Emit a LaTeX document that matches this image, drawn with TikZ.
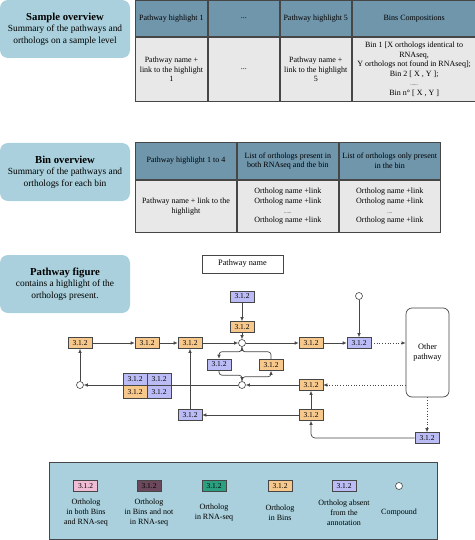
\documentclass[tikz,border=0pt]{standalone}
\usepackage{fontspec}
\setmainfont{Liberation Serif}
\usetikzlibrary{arrows.meta}
\definecolor{boxblue}{RGB}{169,208,220}
\definecolor{headblue}{RGB}{112,150,172}
\definecolor{cellgray}{RGB}{232,232,232}
\definecolor{orthoorange}{RGB}{247,200,140}
\definecolor{orthopurple}{RGB}{187,187,245}
\definecolor{orthopink}{RGB}{240,188,212}
\definecolor{orthodark}{RGB}{108,72,92}
\definecolor{orthogreen}{RGB}{42,160,128}
\definecolor{linegray}{RGB}{70,70,70}
\begin{document}
\begin{tikzpicture}[x=1pt,y=-1pt,>={Latex[length=4pt,width=3.5pt]},
  title/.style={rounded corners=8pt,fill=boxblue,minimum width=130pt,minimum height=58pt,align=center,font=\fontsize{9.4}{11.5}\selectfont},
  head/.style={draw=linegray,line width=0.9pt,fill=headblue,align=center,inner sep=0.5pt,anchor=north west,font=\fontsize{8}{9.6}\selectfont},
  cell/.style={head,fill=cellgray},
  ec/.style={draw=linegray,line width=0.6pt,fill=#1,minimum width=24pt,minimum height=11pt,inner sep=0pt,font=\fontsize{7.5}{8}\selectfont},
  compound/.style={circle,draw=linegray,fill=white,minimum size=7pt,inner sep=0pt,line width=0.6pt},
  legtext/.style={align=center,font=\fontsize{8}{10}\selectfont},
  flow/.style={->,draw=linegray,line width=0.7pt},
  dots/.style={flow,dotted}]
\useasboundingbox (0,0) rectangle (474,540);

% sample overview
\node[title] (sample) at (65,29) {{\bfseries\fontsize{10.7}{12}\selectfont Sample overview}\\Summary of the pathways and\\orthologs on a sample level};
\node[head,minimum width=72pt,minimum height=36pt] (h11) at (135,0) {Pathway highlight 1};
\node[head,minimum width=71pt,minimum height=36pt] (h12) at (h11.north east) {...};
\node[head,minimum width=71pt,minimum height=36pt] (h13) at (h12.north east) {Pathway highlight 5};
\node[head,minimum width=124pt,minimum height=36pt] (h14) at (h13.north east) {Bins Compositions};
\node[cell,minimum width=72pt,minimum height=64pt] (b11) at (h11.south west) {Pathway name +\\link to the highlight\\1};
\node[cell,minimum width=71pt,minimum height=64pt] (b12) at (b11.north east) {...};
\node[cell,minimum width=71pt,minimum height=64pt] (b13) at (b12.north east) {Pathway name +\\link to the highlight\\5};
\node[cell,minimum width=124pt,minimum height=64pt] (b14) at (b13.north east) {Bin 1 [X orthologs identical to\\RNAseq,\\Y orthologs not found in RNAseq];\\Bin 2 [ X , Y ];\\{\tiny......}\\Bin n° [ X , Y ]};

% bin overview
\node[title] (bin) at (65,172) {{\bfseries\fontsize{10.7}{12}\selectfont Bin overview}\\Summary of the pathways and\\orthologs for each bin};
\node[head,minimum width=101pt,minimum height=37pt] (h21) at (135,142) {Pathway highlight 1 to 4};
\node[head,minimum width=101pt,minimum height=37pt] (h22) at (h21.north east) {List of orthologs present in\\both RNAseq and the bin};
\node[head,minimum width=101pt,minimum height=37pt] (h23) at (h22.north east) {List of orthologs only present\\in the bin};
\node[cell,minimum width=101pt,minimum height=52pt] (b21) at (h21.south west) {Pathway name + link to the\\highlight};
\node[cell,minimum width=101pt,minimum height=52pt] (b22) at (b21.north east) {Ortholog name +link\\Ortholog name +link\\{\tiny......}\\Ortholog name +link};
\node[cell,minimum width=101pt,minimum height=52pt] (b23) at (b22.north east) {Ortholog name +link\\Ortholog name +link\\{\tiny....}\\Ortholog name +link};

% pathway figure
\node[title] (figure) at (65,284) {{\bfseries\fontsize{10.7}{12}\selectfont Pathway figure}\\contains a highlight of the\\orthologs present.};
\node[draw=linegray,fill=white,minimum width=81pt,minimum height=18pt,font=\fontsize{8.3}{9}\selectfont] (pname) at (242.5,264) {Pathway name};

\node[ec=orthopurple] (ptop) at (242,296.5) {3.1.2};
\node[ec=orthoorange] (otop) at (242,327) {3.1.2};
\node[compound] (c1) at (242,343) {};
\node[ec=orthoorange] (o1) at (80,343) {3.1.2};
\node[ec=orthoorange] (o2) at (147,343) {3.1.2};
\node[ec=orthoorange] (o3) at (190,343) {3.1.2};
\node[ec=orthoorange] (o4) at (311,343) {3.1.2};
\node[ec=orthopurple] (p1) at (359,343) {3.1.2};
\node[compound] (ctop) at (359,296) {};
\node[draw=linegray,line width=0.7pt,rounded corners=6pt,fill=white,minimum width=43pt,minimum height=89pt,align=center,font=\fontsize{8.3}{10}\selectfont] (other) at (427.5,352.5) {Other\\pathway};
\node[ec=orthopurple] (pb) at (219,364.5) {3.1.2};
\node[ec=orthoorange] (ob) at (271,365) {3.1.2};
\node[compound] (c2) at (242,385) {};
\node[ec=orthoorange] (o5) at (311,385) {3.1.2};
\node[ec=orthoorange] (o6) at (311,415) {3.1.2};
\node[ec=orthopurple] (p2) at (190,415) {3.1.2};
\node[ec=orthopurple] (p3) at (427,438) {3.1.2};
\node[compound] (cl) at (80,385) {};

\draw[flow] (ptop) -- (otop);
\draw[flow] (otop) -- (c1);
\draw[flow] (o1) -- (o2);
\draw[flow] (o2) -- (o3);
\draw[flow] (o3) -- (c1);
\draw[flow] (c1) -- (o4);
\draw[flow] (o4) -- (p1);
\draw[flow] (ctop) -- (p1);
\draw[dots] (p1) -- (other.west |- p1);
\draw[flow,rounded corners=3pt] (c1.south) |- ([yshift=7pt]pb.north) -- (pb.north);
\draw[flow,rounded corners=3pt] (ob.north) |- ([yshift=-5pt]c1.south) -- (c1.south);
\draw[flow,rounded corners=3pt] (pb.south) |- ([yshift=6pt]c2.north) -- (c2.north);
\draw[flow,rounded corners=3pt] (c2.north) |- ([yshift=-6pt]ob.south) -- (ob.south);
\draw[dots] (other.west |- o5) -- (o5);
\draw[flow] (o5) -- (c2);
\draw[flow] (c2) -- (cl);
\draw[flow] (cl) -- (o1);
\draw[flow] (o6) -- (o5);
\draw[flow] (o6) -- (p2);
\draw[flow] (p2) -- (o3);
\draw[dots] (p3 |- other.south) -- (p3);
\draw[flow,rounded corners=4pt] (p3.west) -| (o6.south);

% stacked orthologs on the return line
\node[ec=orthopurple,minimum height=12.5pt] (s1) at (135,379.25) {3.1.2};
\node[ec=orthopurple,minimum height=12.5pt] (s2) at (159,379.25) {3.1.2};
\node[ec=orthoorange,minimum height=12.5pt] (s3) at (135,391.75) {3.1.2};
\node[ec=orthopurple,minimum height=12.5pt] (s4) at (159,391.75) {3.1.2};

% legend
\node[draw=linegray,line width=0.7pt,fill=boxblue,minimum width=388pt,minimum height=77pt,anchor=north west] (legend) at (49,462) {};
\node[ec=orthopink] (lpink) at (85.5,486) {3.1.2};
\node[ec=orthodark] (ldark) at (149,486) {3.1.2};
\node[ec=orthogreen] (lgreen) at (214,486) {3.1.2};
\node[ec=orthoorange] (lorange) at (280,486) {3.1.2};
\node[ec=orthopurple] (lpurple) at (344,486) {3.1.2};
\node[compound] (lcomp) at (399,486) {};
\node[legtext] (tpink) at (86,513) {Ortholog\\in both Bins\\and RNA-seq};
\node[legtext] (tdark) at (149,513) {Ortholog\\in Bins and not\\in RNA-seq};
\node[legtext] (tgreen) at (214,513) {Ortholog\\in RNA-seq};
\node[legtext] (torange) at (280,513) {Ortholog\\in Bins};
\node[legtext] (tpurple) at (344,513) {Ortholog absent\\from the\\annotation};
\node[legtext] (tcomp) at (399,513) {Compound};
\end{tikzpicture}
\end{document}
